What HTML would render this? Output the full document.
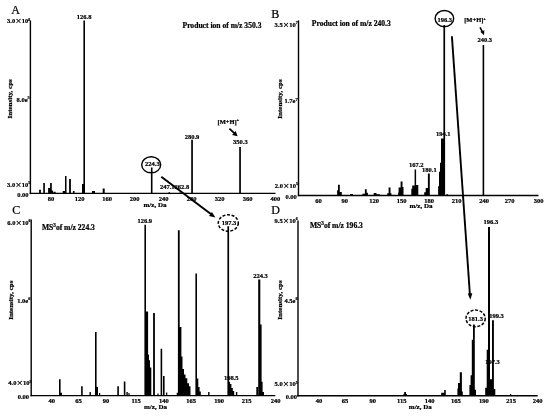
<!DOCTYPE html>
<html><head><meta charset="utf-8"><style>
html,body{margin:0;padding:0;background:#fff;}
svg{display:block;}
text{font-family:'Liberation Serif','Times New Roman',serif;fill:#000;stroke:#000;stroke-width:0.22px;}
.x{font-family:'Noto Sans CJK SC',sans-serif;font-weight:normal;}
</style></head><body>
<svg width="550" height="416" viewBox="0 0 550 416">
<rect width="550" height="416" fill="#fff"/>
<text x="11.3" y="14.1" font-size="12" font-weight="normal" text-anchor="start" >A</text>
<line x1="30.4" y1="20.5" x2="30.4" y2="194.1" stroke="#000" stroke-width="1.4" />
<line x1="29.7" y1="193.4" x2="275.5" y2="193.4" stroke="#000" stroke-width="1.4" />
<text x="182.5" y="28.2" font-size="7.6" font-weight="bold" text-anchor="start" >Product ion of m/z 350.3</text>
<text x="30.2" y="23.4" font-size="6.5" font-weight="bold" text-anchor="end" >3.0<tspan class="x">×</tspan>10<tspan font-size="3.9" dy="-2.4">6</tspan></text>
<text x="29.8" y="101.9" font-size="6.5" font-weight="bold" text-anchor="end" >8.0e<tspan font-size="4.4" dy="-2.6">5</tspan></text>
<text x="30.2" y="186.6" font-size="6.5" font-weight="bold" text-anchor="end" >3.0<tspan class="x">×</tspan>10<tspan font-size="3.9" dy="-2.4">5</tspan></text>
<text x="28.5" y="197.4" font-size="6.5" font-weight="bold" text-anchor="end" >0.00</text>
<text transform="translate(12.3,98.8) rotate(-90)" font-size="7" font-weight="bold" text-anchor="middle">Intensity, cps</text>
<text x="50.9" y="201.0" font-size="6.5" font-weight="bold" text-anchor="middle" >80</text>
<text x="79.5" y="201.0" font-size="6.5" font-weight="bold" text-anchor="middle" >120</text>
<text x="107.2" y="201.0" font-size="6.5" font-weight="bold" text-anchor="middle" >160</text>
<text x="134.6" y="201.0" font-size="6.5" font-weight="bold" text-anchor="middle" >200</text>
<text x="163.6" y="201.0" font-size="6.5" font-weight="bold" text-anchor="middle" >240</text>
<text x="191.6" y="201.0" font-size="6.5" font-weight="bold" text-anchor="middle" >280</text>
<text x="219.6" y="201.0" font-size="6.5" font-weight="bold" text-anchor="middle" >320</text>
<text x="247.6" y="201.0" font-size="6.5" font-weight="bold" text-anchor="middle" >360</text>
<text x="275.3" y="201.0" font-size="6.5" font-weight="bold" text-anchor="middle" >400</text>
<text x="155" y="206.5" font-size="7" font-weight="bold" text-anchor="middle" >m/z, Da</text>
<path d="M39.10 193.40V189.70H40.90V193.40ZM43.25 193.40V183.10H44.90V193.40ZM48.10 193.40V188.10H50.10V193.40ZM50.10 193.40V183.10H51.80V193.40ZM51.80 193.40V190.60H53.00V193.40ZM53.40 193.40V191.75H55.60V193.40ZM62.70 193.40V190.90H65.00V193.40ZM65.00 193.40V176.10H66.50V193.40ZM69.10 193.40V179.10H70.90V193.40ZM72.90 193.40V190.90H74.50V193.40ZM82.00 193.40V183.90H83.50V193.40ZM83.40 193.40V20.50H85.00V193.40ZM92.00 193.40V191.10H95.00V193.40ZM102.70 193.40V188.50H104.70V193.40ZM150.90 193.40V167.40H152.50V193.40ZM168.50 193.40V192.20H170.00V193.40ZM179.50 193.40V192.50H180.70V193.40ZM191.20 193.40V139.80H192.90V193.40ZM239.20 193.40V147.10H240.90V193.40Z"/>
<text x="84.1" y="18.9" font-size="6.5" font-weight="bold" text-anchor="middle" >126.8</text>
<text x="192" y="138.6" font-size="6.5" font-weight="bold" text-anchor="middle" >280.9</text>
<text x="240.4" y="144.2" font-size="6.5" font-weight="bold" text-anchor="middle" >350.3</text>
<text x="217.5" y="123.5" font-size="6.5" font-weight="bold" text-anchor="start" >[M+H]<tspan font-size="4" dy="-2.8">+</tspan></text>
<text x="152.4" y="165.9" font-size="6.5" font-weight="bold" text-anchor="middle" >224.3</text>
<ellipse cx="151.2" cy="164.8" rx="9.5" ry="8" fill="none" stroke="#000" stroke-width="1.4"/>
<text x="174.6" y="189.4" font-size="6.5" font-weight="bold" text-anchor="middle" >247.1262.8</text>
<line x1="229.4" y1="128.6" x2="234.6" y2="133.4" stroke="#000" stroke-width="1.8"/>
<polygon points="237.6,136.3 232.1,134.9 235.7,130.9"/>
<text x="271.3" y="18.2" font-size="12" font-weight="normal" text-anchor="start" >B</text>
<line x1="298.5" y1="20.4" x2="298.5" y2="196.2" stroke="#000" stroke-width="1.4" />
<line x1="297.8" y1="195.5" x2="538.5" y2="195.5" stroke="#000" stroke-width="1.4" />
<text x="311.8" y="26.4" font-size="7.6" font-weight="bold" text-anchor="start" >Product ion of m/z 240.3</text>
<text x="297.6" y="26.6" font-size="6.5" font-weight="bold" text-anchor="end" >3.5<tspan class="x">×</tspan>10<tspan font-size="3.9" dy="-2.4">7</tspan></text>
<text x="297.6" y="103.2" font-size="6.5" font-weight="bold" text-anchor="end" >1.7e<tspan font-size="4.4" dy="-2.6">7</tspan></text>
<text x="297.9" y="187.8" font-size="6.5" font-weight="bold" text-anchor="end" >2.0<tspan class="x">×</tspan>10<tspan font-size="3.9" dy="-2.4">5</tspan></text>
<text x="296.8" y="198.6" font-size="6.5" font-weight="bold" text-anchor="end" >0.00</text>
<text transform="translate(282.4,99) rotate(-90)" font-size="7" font-weight="bold" text-anchor="middle">Intensity, cps</text>
<text x="318.5" y="202.9" font-size="6.5" font-weight="bold" text-anchor="middle" >60</text>
<text x="344.7" y="202.9" font-size="6.5" font-weight="bold" text-anchor="middle" >90</text>
<text x="374.2" y="202.9" font-size="6.5" font-weight="bold" text-anchor="middle" >120</text>
<text x="401.5" y="202.9" font-size="6.5" font-weight="bold" text-anchor="middle" >150</text>
<text x="429" y="202.9" font-size="6.5" font-weight="bold" text-anchor="middle" >180</text>
<text x="456.5" y="202.9" font-size="6.5" font-weight="bold" text-anchor="middle" >210</text>
<text x="484" y="202.9" font-size="6.5" font-weight="bold" text-anchor="middle" >240</text>
<text x="509.7" y="202.9" font-size="6.5" font-weight="bold" text-anchor="middle" >270</text>
<text x="538.5" y="202.9" font-size="6.5" font-weight="bold" text-anchor="middle" >300</text>
<text x="421" y="208" font-size="7" font-weight="bold" text-anchor="middle" >m/z, Da</text>
<path d="M337.10 195.50V190.30H338.00V195.50ZM338.00 195.50V184.80H339.80V195.50ZM339.80 195.50V192.10H341.80V195.50ZM350.00 195.50V194.00H352.90V195.50ZM362.40 195.50V193.80H364.90V195.50ZM364.90 195.50V189.20H366.70V195.50ZM366.70 195.50V192.80H367.90V195.50ZM373.70 195.50V192.90H376.50V195.50ZM376.50 195.50V194.20H379.90V195.50ZM387.20 195.50V193.30H388.60V195.50ZM388.60 195.50V187.50H390.50V195.50ZM390.50 195.50V193.30H391.50V195.50ZM398.10 195.50V192.50H398.60V195.50ZM398.60 195.50V187.50H400.60V195.50ZM400.60 195.50V181.60H402.50V195.50ZM402.50 195.50V187.10H403.50V195.50ZM411.30 195.50V188.80H412.20V195.50ZM412.20 195.50V185.50H414.60V195.50ZM414.60 195.50V169.60H416.10V195.50ZM416.10 195.50V185.00H418.30V195.50ZM424.20 195.50V192.20H425.70V195.50ZM425.70 195.50V187.90H427.90V195.50ZM427.90 195.50V173.50H429.80V195.50ZM438.10 195.50V186.30H439.00V195.50ZM439.00 195.50V171.80H440.00V195.50ZM440.00 195.50V162.80H441.00V195.50ZM441.00 195.50V138.50H443.40V195.50ZM443.40 195.50V25.00H445.10V195.50ZM446.50 195.50V194.00H447.70V195.50ZM482.60 195.50V45.00H484.20V195.50Z"/>
<text x="416.3" y="167.0" font-size="6.5" font-weight="bold" text-anchor="middle" >167.2</text>
<text x="429.4" y="171.5" font-size="6.5" font-weight="bold" text-anchor="middle" >180.1</text>
<text x="443.2" y="135.6" font-size="6.5" font-weight="bold" text-anchor="middle" >194.1</text>
<text x="444.8" y="21.6" font-size="6.5" font-weight="bold" text-anchor="middle" >196.3</text>
<ellipse cx="444.4" cy="18.6" rx="9.3" ry="8.1" fill="none" stroke="#000" stroke-width="1.4"/>
<text x="464.2" y="22.3" font-size="6.5" font-weight="bold" text-anchor="start" >[M+H]<tspan font-size="4" dy="-2.8">+</tspan></text>
<text x="484.8" y="42.2" font-size="6.5" font-weight="bold" text-anchor="middle" >240.3</text>
<line x1="480" y1="27.3" x2="482.6" y2="32.2" stroke="#000" stroke-width="1.5"/>
<polygon points="484,35.2 480.3,31.8 484.4,30.2"/>
<text x="12.2" y="214" font-size="12" font-weight="normal" text-anchor="start" >C</text>
<line x1="31.2" y1="219.5" x2="31.2" y2="396.3" stroke="#000" stroke-width="1.4" />
<line x1="30.5" y1="395.6" x2="275.3" y2="395.6" stroke="#000" stroke-width="1.4" />
<text x="41.9" y="229.5" font-size="7.6" font-weight="bold" text-anchor="start" >MS<tspan font-size="5.2" dy="-2.6">3</tspan><tspan dy="2.6">of m/z 224.3</tspan></text>
<text x="30.4" y="224.6" font-size="6.5" font-weight="bold" text-anchor="end" >6.0<tspan class="x">×</tspan>10<tspan font-size="3.9" dy="-2.4">6</tspan></text>
<text x="30.4" y="303" font-size="6.5" font-weight="bold" text-anchor="end" >1.0e<tspan font-size="4.4" dy="-2.6">6</tspan></text>
<text x="31.4" y="385.4" font-size="6.5" font-weight="bold" text-anchor="end" >4.0<tspan class="x">×</tspan>10<tspan font-size="3.9" dy="-2.4">5</tspan></text>
<text x="29" y="399.2" font-size="6.5" font-weight="bold" text-anchor="end" >0.00</text>
<text transform="translate(13.4,300.2) rotate(-90)" font-size="7" font-weight="bold" text-anchor="middle">Intensity, cps</text>
<text x="51.7" y="403.1" font-size="6.5" font-weight="bold" text-anchor="middle" >40</text>
<text x="78.5" y="403.1" font-size="6.5" font-weight="bold" text-anchor="middle" >65</text>
<text x="106.1" y="403.1" font-size="6.5" font-weight="bold" text-anchor="middle" >90</text>
<text x="136.1" y="403.1" font-size="6.5" font-weight="bold" text-anchor="middle" >115</text>
<text x="163.8" y="403.1" font-size="6.5" font-weight="bold" text-anchor="middle" >140</text>
<text x="191.2" y="403.1" font-size="6.5" font-weight="bold" text-anchor="middle" >165</text>
<text x="219.2" y="403.1" font-size="6.5" font-weight="bold" text-anchor="middle" >190</text>
<text x="246.7" y="403.1" font-size="6.5" font-weight="bold" text-anchor="middle" >215</text>
<text x="275.5" y="403.1" font-size="6.5" font-weight="bold" text-anchor="middle" >240</text>
<text x="155.5" y="408.7" font-size="7" font-weight="bold" text-anchor="middle" >m/z, Da</text>
<path d="M59.00 395.60V379.20H60.60V395.60ZM60.60 395.60V392.70H62.00V395.60ZM81.10 395.60V386.30H82.70V395.60ZM89.50 395.60V392.10H90.90V395.60ZM95.00 395.60V331.90H96.60V395.60ZM96.60 395.60V386.90H98.00V395.60ZM99.00 395.60V393.00H100.20V395.60ZM117.30 395.60V386.30H118.90V395.60ZM123.80 395.60V381.50H125.40V395.60ZM126.40 395.60V392.00H127.80V395.60ZM128.40 395.60V393.00H129.60V395.60ZM144.40 395.60V224.70H146.00V395.60ZM145.80 395.60V311.50H148.10V395.60ZM148.10 395.60V354.40H149.00V395.60ZM149.00 395.60V360.20H150.00V395.60ZM150.00 395.60V367.40H151.30V395.60ZM153.10 395.60V312.90H154.90V395.60ZM157.40 395.60V393.50H158.60V395.60ZM160.60 395.60V348.70H162.20V395.60ZM163.00 395.60V376.10H164.60V395.60ZM166.10 395.60V392.50H167.30V395.60ZM176.70 395.60V392.70H177.90V395.60ZM177.90 395.60V230.20H179.70V395.60ZM179.70 395.60V326.90H181.40V395.60ZM181.40 395.60V356.60H182.50V395.60ZM182.50 395.60V368.90H184.00V395.60ZM184.00 395.60V374.60H185.50V395.60ZM185.50 395.60V378.20H187.30V395.60ZM187.30 395.60V383.30H189.00V395.60ZM189.00 395.60V386.20H190.50V395.60ZM195.40 395.60V273.50H197.00V395.60ZM197.00 395.60V378.50H198.30V395.60ZM198.30 395.60V387.00H199.60V395.60ZM199.60 395.60V391.50H200.80V395.60ZM208.10 395.60V392.00H209.50V395.60ZM227.40 395.60V226.20H229.10V395.60ZM228.80 395.60V381.70H230.00V395.60ZM230.00 395.60V384.00H231.40V395.60ZM231.40 395.60V388.00H232.80V395.60ZM232.80 395.60V391.00H234.20V395.60ZM235.90 395.60V392.00H237.30V395.60ZM256.30 395.60V387.10H258.00V395.60ZM258.20 395.60V279.60H260.30V395.60ZM260.30 395.60V324.40H261.60V395.60ZM261.60 395.60V381.70H262.60V395.60ZM262.60 395.60V392.00H264.00V395.60Z"/>
<text x="144.8" y="223.3" font-size="6.5" font-weight="bold" text-anchor="middle" >126.9</text>
<text x="229" y="225.3" font-size="6.5" font-weight="bold" text-anchor="middle" >197.3</text>
<ellipse cx="228.3" cy="223" rx="10" ry="8.2" fill="none" stroke="#000" stroke-width="1.5" stroke-dasharray="3,1.6"/>
<text x="260.5" y="277.9" font-size="6.5" font-weight="bold" text-anchor="middle" >224.3</text>
<text x="231.2" y="380.2" font-size="6.5" font-weight="bold" text-anchor="middle" >198.5</text>
<text x="271.3" y="213.8" font-size="12" font-weight="normal" text-anchor="start" >D</text>
<line x1="298.0" y1="220.4" x2="298.0" y2="396.5" stroke="#000" stroke-width="1.4" />
<line x1="297.3" y1="395.8" x2="537.7" y2="395.8" stroke="#000" stroke-width="1.4" />
<text x="309.9" y="227.9" font-size="7.6" font-weight="bold" text-anchor="start" >MS<tspan font-size="5.2" dy="-2.6">3</tspan><tspan dy="2.6">of m/z 196.3</tspan></text>
<text x="297.6" y="222.8" font-size="6.5" font-weight="bold" text-anchor="end" >9.5<tspan class="x">×</tspan>10<tspan font-size="3.9" dy="-2.4">6</tspan></text>
<text x="297.6" y="302.6" font-size="6.5" font-weight="bold" text-anchor="end" >4.5e<tspan font-size="4.4" dy="-2.6">6</tspan></text>
<text x="297.6" y="386.1" font-size="6.5" font-weight="bold" text-anchor="end" >5.0<tspan class="x">×</tspan>10<tspan font-size="3.9" dy="-2.4">5</tspan></text>
<text x="297.1" y="399.2" font-size="6.5" font-weight="bold" text-anchor="end" >0.00</text>
<text transform="translate(282.0,300) rotate(-90)" font-size="7" font-weight="bold" text-anchor="middle">Intensity, cps</text>
<text x="318.9" y="403.1" font-size="6.5" font-weight="bold" text-anchor="middle" >40</text>
<text x="344.9" y="403.1" font-size="6.5" font-weight="bold" text-anchor="middle" >65</text>
<text x="372.8" y="403.1" font-size="6.5" font-weight="bold" text-anchor="middle" >90</text>
<text x="401.7" y="403.1" font-size="6.5" font-weight="bold" text-anchor="middle" >115</text>
<text x="429.5" y="403.1" font-size="6.5" font-weight="bold" text-anchor="middle" >140</text>
<text x="455.9" y="403.1" font-size="6.5" font-weight="bold" text-anchor="middle" >165</text>
<text x="483.8" y="403.1" font-size="6.5" font-weight="bold" text-anchor="middle" >190</text>
<text x="511" y="403.1" font-size="6.5" font-weight="bold" text-anchor="middle" >215</text>
<text x="537.7" y="403.1" font-size="6.5" font-weight="bold" text-anchor="middle" >240</text>
<text x="420.3" y="408.7" font-size="7" font-weight="bold" text-anchor="middle" >m/z, Da</text>
<path d="M403.40 395.80V394.00H404.20V395.80ZM404.20 395.80V392.10H406.00V395.80ZM406.00 395.80V394.00H407.00V395.80ZM441.20 395.80V392.70H444.20V395.80ZM444.20 395.80V389.90H445.80V395.80ZM457.40 395.80V388.50H458.00V395.80ZM458.00 395.80V383.00H459.80V395.80ZM459.80 395.80V372.20H461.90V395.80ZM461.90 395.80V391.50H462.80V395.80ZM469.40 395.80V384.90H470.60V395.80ZM470.60 395.80V375.20H471.80V395.80ZM471.80 395.80V339.70H473.00V395.80ZM473.00 395.80V324.50H474.80V395.80ZM474.70 395.80V389.70H476.00V395.80ZM485.20 395.80V387.70H486.70V395.80ZM486.70 395.80V349.80H488.00V395.80ZM488.00 395.80V226.90H490.00V395.80ZM490.00 395.80V379.30H492.00V395.80ZM492.00 395.80V320.20H493.90V395.80ZM493.90 395.80V389.00H495.30V395.80ZM510.00 395.80V394.00H511.20V395.80Z"/>
<text x="490.9" y="223.8" font-size="6.5" font-weight="bold" text-anchor="middle" >196.3</text>
<text x="496.5" y="317.6" font-size="6.5" font-weight="bold" text-anchor="middle" >199.3</text>
<text x="492.5" y="363.5" font-size="6.5" font-weight="bold" text-anchor="middle" >197.3</text>
<text x="475.6" y="321.2" font-size="6.5" font-weight="bold" text-anchor="middle" >181.3</text>
<ellipse cx="475.6" cy="318.4" rx="9.6" ry="8.3" fill="none" stroke="#000" stroke-width="1.5" stroke-dasharray="3,1.6"/>
<line x1="161.3" y1="176.8" x2="211.2" y2="214.3" stroke="#000" stroke-width="2.0"/>
<polygon points="215.4,217.5 209.0,216.0 211.9,211.9"/>
<line x1="451.9" y1="36.2" x2="469.9" y2="294.5" stroke="#000" stroke-width="1.9"/>
<polygon points="470.4,299.7 467.7,293.6 472.3,293.3"/>
</svg>
</body></html>
